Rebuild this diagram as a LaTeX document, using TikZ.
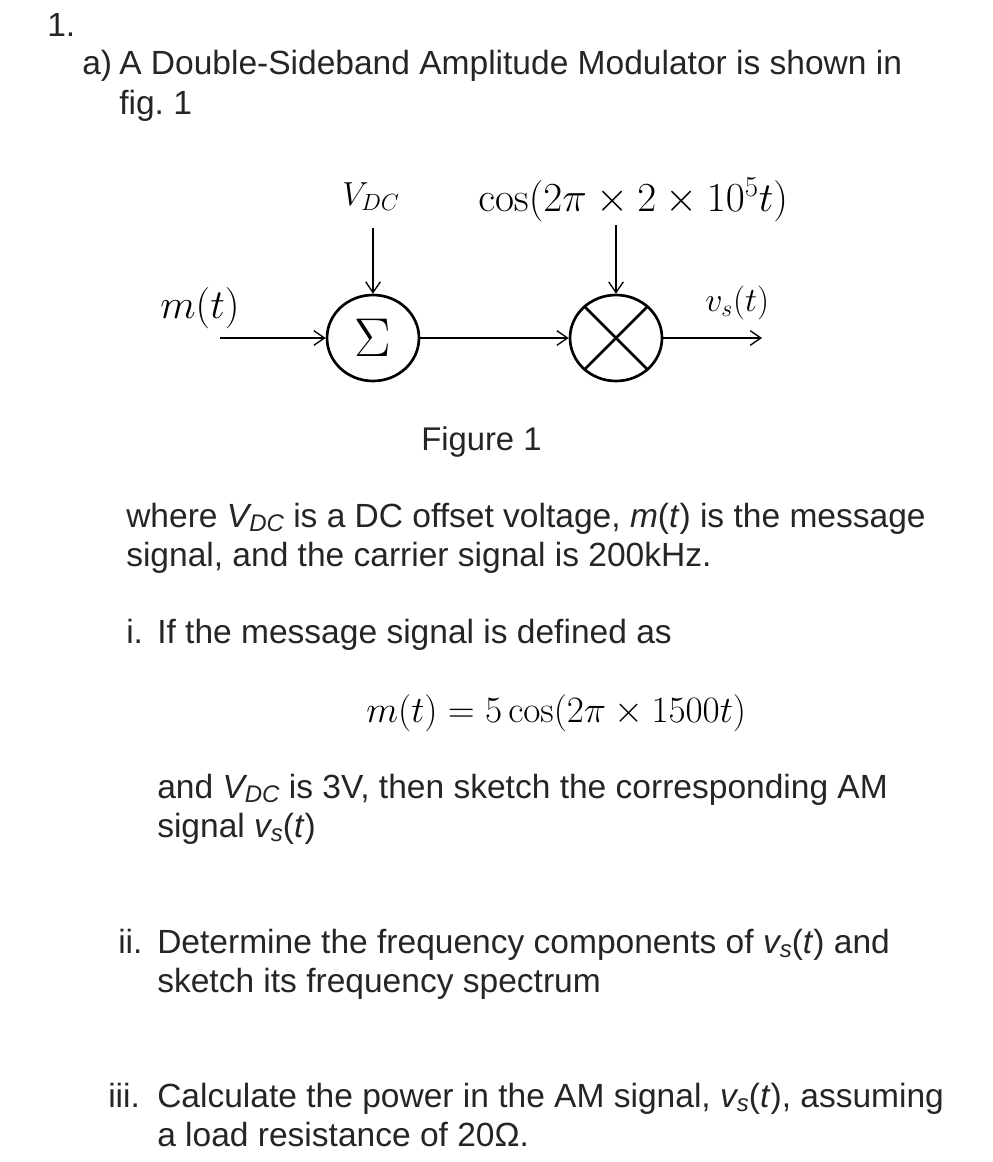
\documentclass[tikz,border=0pt]{standalone}
\usepackage{fix-cm}
\usepackage[no-math]{fontspec}
\usepackage{amsmath}
\setmainfont{Liberation Sans}
\usetikzlibrary{shapes.geometric,arrows.meta}
\definecolor{inkcol}{HTML}{252525}
\newcommand{\vsub}[2]{{\itshape #1\raisebox{-0.25ex}{\fontsize{18}{18}\selectfont #2}}}
\frenchspacing
\tikzset{
	para/.style={anchor=base west, inner sep=0pt, text=inkcol, font=\fontsize{25.15}{30}\selectfont},
	formula/.style={anchor=base west, inner sep=0pt, text=black, font=\fontsize{31}{34}\selectfont},
	junction/.style={draw, ellipse, line width=2pt, minimum width=92*0.75pt, minimum height=86*0.75pt, inner sep=0pt},
	sig/.style={-{Straight Barb[length=8pt, width=11pt]}, line width=1pt}
}
\begin{document}
\begin{tikzpicture}[x=0.75pt, y=-0.75pt]
		\useasboundingbox (0, 0) rectangle (992, 1162);
		% question text
		\node[para] (num) at (47, 37) {1.};
		\node[para] (alabel) at (82, 75) {a)};
		\node[para] (parta) at (119, 75) {A Double-Sideband Amplitude Modulator is shown in};
		\node[para] (partb) at (119, 115) {fig. 1};
		\node[para, font=\fontsize{24.6}{30}\selectfont] (figcap) at (421, 450) {Figure 1};
		\node[para] (wherea) at (126, 527.5) {where \vsub{V}{DC} is a DC offset voltage, \textit{m}(\textit{t}) is the message};
		\node[para] (whereb) at (126, 566.5) {signal, and the carrier signal is 200kHz.};
		\node[para] (ilabel) at (126, 643.5) {i.};
		\node[para] (roma) at (157, 643.5) {If the message signal is defined as};
		\node[para] (anda) at (157, 798.5) {and \vsub{V}{DC} is 3V, then sketch the corresponding AM};
		\node[para] (andb) at (157, 837.5) {signal \vsub{v}{s}(\textit{t})};
		\node[para] (iilabel) at (118, 953.5) {ii.};
		\node[para] (romba) at (157, 953.5) {Determine the frequency components of \vsub{v}{s}(\textit{t}) and};
		\node[para] (rombb) at (157, 992.5) {sketch its frequency spectrum};
		\node[para] (iiilabel) at (108, 1107.5) {iii.};
		\node[para] (romca) at (157, 1107.5) {Calculate the power in the AM signal, \vsub{v}{s}(\textit{t}), assuming};
		\node[para] (romcb) at (157, 1146.5) {a load resistance of 20Ω.};
		\node[formula, font=\fontsize{27.9}{30}\selectfont] (msg) at (366, 722) {$m(t) = 5\cos(2\pi\times 1500t)$};
		% block diagram
		\node[junction] (sum) at (373, 338) {\fontsize{41}{41}\selectfont$\Sigma$};
		\node[junction] (mult) at (616, 338) {};
		\draw[line width=2pt] (mult.45) -- (mult.225);
		\draw[line width=2pt] (mult.135) -- (mult.315);
		\node[formula] (mlabel) at (160, 318) {$m(t)$};
		\node[formula, font=\fontsize{25}{30}\selectfont] (vdc) at (342, 206) {$V_{DC}$};
		\node[formula] (carrier) at (478, 212) {$\cos(2\pi\times 2\times 10^5t)$};
		\node[formula, font=\fontsize{25.5}{30}\selectfont] (vout) at (705, 311) {$v_s(t)$};
		\coordinate (min) at (220, 338);
		\coordinate (vin) at (373, 228);
		\coordinate (cin) at (616, 225);
		\coordinate (vend) at (762, 338);
		\draw[sig] (min) -- (sum.west);
		\draw[sig] (vin) -- (sum.north);
		\draw[sig] (sum.east) -- (mult.west);
		\draw[sig] (cin) -- (mult.north);
		\draw[sig] (mult.east) -- (vend);
	\end{tikzpicture}
\end{document}
